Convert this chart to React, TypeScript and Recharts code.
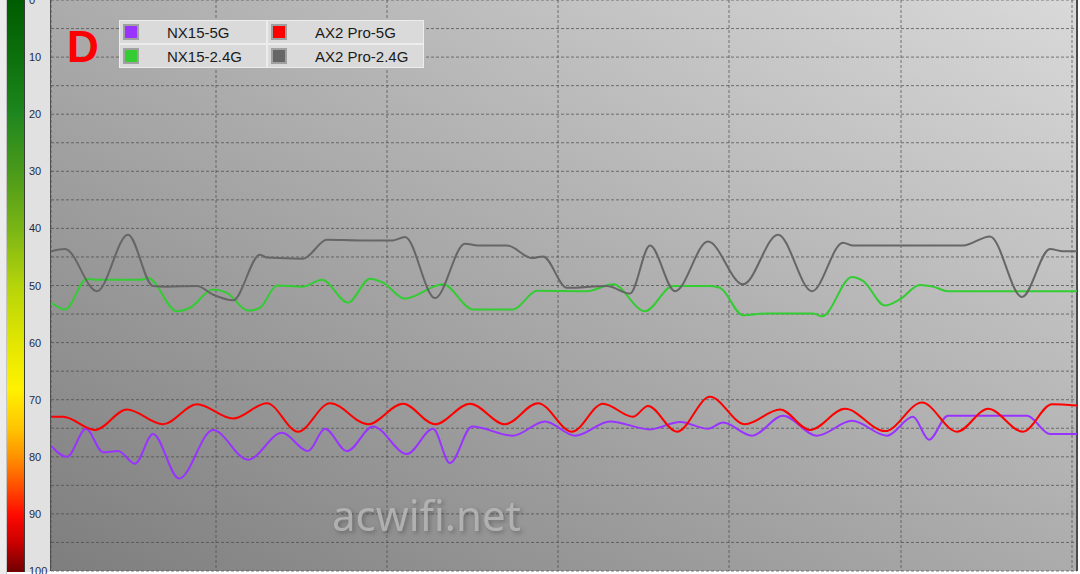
import { LineChart, Line, XAxis, YAxis, CartesianGrid, Legend } from "recharts"

// signal strength (-dBm) over time, x = sample time
const NX15_5G_T = [0, 16, 35, 52, 67, 84, 102, 128, 162, 197, 231, 257, 274, 296, 322, 356, 382, 399, 421, 462, 494, 524, 559, 599, 629, 657, 672, 701, 732, 766, 801, 836, 862, 878, 897, 976, 999, 1026]
const NX15_5G = [78.1, 80.0, 75.1, 79.2, 79.0, 81.2, 76.0, 83.8, 75.3, 80.5, 75.8, 79.0, 75.1, 79.0, 74.7, 79.5, 75.1, 81.1, 74.7, 76.3, 73.8, 76.3, 73.8, 75.2, 73.9, 75.1, 74.0, 76.3, 72.8, 76.3, 73.7, 76.3, 73.0, 77.0, 72.8, 72.8, 76.0, 76.0]

const NX15_24G_T = [0, 14, 36, 46, 89, 97, 126, 139, 162, 176, 197, 209, 226, 252, 271, 297, 319, 332, 354, 392, 422, 462, 486, 536, 562, 594, 622, 659, 669, 692, 716, 762, 771, 801, 812, 834, 849, 869, 882, 897, 1026]
const NX15_24G = [53.0, 54.2, 48.8, 49.0, 49.0, 48.7, 54.5, 53.9, 50.7, 51.3, 54.4, 53.9, 50.0, 50.2, 49.0, 53.0, 48.8, 49.5, 52.3, 49.8, 54.2, 54.2, 50.9, 51.0, 49.8, 54.5, 50.1, 50.1, 50.4, 55.2, 54.9, 54.9, 55.4, 48.5, 49.2, 53.5, 52.4, 49.9, 50.2, 51.0, 51.0]

const AX2_5G_T = [0, 12, 44, 76, 112, 146, 182, 216, 247, 279, 317, 352, 384, 419, 454, 487, 521, 552, 582, 597, 626, 659, 694, 729, 759, 794, 834, 871, 906, 937, 972, 1001, 1026]
const AX2_5G = [73.0, 73.0, 75.3, 71.7, 74.3, 70.8, 73.3, 70.6, 75.6, 70.6, 74.3, 70.7, 74.3, 70.7, 74.3, 70.6, 75.6, 70.7, 73.0, 71.1, 75.6, 69.5, 74.3, 71.7, 75.3, 71.6, 75.5, 70.5, 75.6, 71.6, 75.6, 70.8, 71.0]

const AX2_24G_T = [0, 14, 46, 77, 102, 116, 146, 162, 182, 209, 216, 252, 276, 309, 342, 354, 384, 414, 429, 456, 481, 492, 516, 556, 579, 599, 624, 657, 692, 727, 761, 792, 802, 912, 939, 971, 999, 1012, 1026]
const AX2_24G = [44.0, 43.6, 51.0, 41.1, 50.1, 50.2, 50.1, 51.6, 52.6, 44.6, 45.1, 45.3, 42.0, 42.1, 42.1, 41.5, 52.2, 42.7, 43.0, 43.0, 45.2, 44.9, 50.4, 50.1, 51.4, 43.0, 51.0, 42.3, 49.8, 41.1, 51.0, 42.5, 43.0, 43.0, 41.4, 52.0, 43.6, 44.0, 44.0]

const SERIES = [
    { name: "NX15-5G", color: "#9933ff", t: NX15_5G_T, v: NX15_5G },
    { name: "NX15-2.4G", color: "#33cc33", t: NX15_24G_T, v: NX15_24G },
    { name: "AX2 Pro-5G", color: "#ff0000", t: AX2_5G_T, v: AX2_5G },
    { name: "AX2 Pro-2.4G", color: "#666666", t: AX2_24G_T, v: AX2_24G },
]

const Y_TICKS = [0, 5, 10, 15, 20, 25, 30, 35, 40, 45, 50, 55, 60, 65, 70, 75, 80, 85, 90, 95, 100]
const X_GRID = [165, 336, 507, 678, 850, 1021]
const X_DOMAIN = [0, 1026]

const toPoints = (t: number[], v: number[]) => t.map((x, i) => ({ t: x, v: v[i] }))

const YTick = (props: any) => {
    const { y, payload } = props
    if (payload.value % 10 !== 0) return <g />
    return (
        <text x={29} y={y} dy={4} fontSize={11} fill="#1f2b48" fontFamily="'Liberation Sans', Arial, sans-serif">
            {payload.value}
        </text>
    )
}

// legend keeps the series order (2 rows x 2 columns)
const LegendBox = ({ payload }: any) => {
    const items = SERIES.map(s => (payload || []).find((p: any) => p.value === s.name)).filter(Boolean)
    return (
        <div style={{
            display: "grid",
            gridTemplateRows: "22px 22px",
            gridTemplateColumns: "146px 155px",
            gridAutoFlow: "column",
            gap: 2,
            fontFamily: "'Liberation Sans', Arial, sans-serif",
            fontSize: 15,
            color: "#1a1a1a",
        }}>
            {items.map((p: any) => (
                <div key={p.value} style={{ background: "#dadada", display: "flex", alignItems: "center", boxShadow: "0 0 0 1px #ededed" }}>
                    <span style={{ width: 12, height: 12, background: p.color, border: "2px solid #a0a0a0", marginLeft: 3, flex: "none" }} />
                    <span style={{ marginLeft: 28 }}>{p.value}</span>
                </div>
            ))}
        </div>
    )
}

export default function App() {
    return (
        <div style={{ position: "fixed", left: 0, top: 0, width: 1080, height: 574, background: "#ffffff", overflow: "hidden" }}>
            <div style={{ position: "absolute", left: 0, top: 0, width: 6, height: 574, background: "#ececec", borderRight: "1px solid #c4c4c4" }} />
            {/* colour scale bar */}
            <div style={{
                position: "absolute", left: 7, top: 0, width: 17, height: 572, borderRight: "1px solid #3a3a3a",
                background: "linear-gradient(to bottom, #005c00 0%, #0c700c 10%, #1f871f 20%, #4a9a1a 30%, #7ab515 40%, #b5d40a 50%, #e2e600 60%, #fff200 68%, #ffc400 75%, #ff9000 80%, #ff5000 85%, #ff0a00 90%, #c80000 95%, #700000 100%)",
            }} />
            <div style={{ position: "absolute", left: 25, top: 0, width: 25, height: 572, background: "#e1e1e1" }} />
            {/* plot background */}
            <div style={{
                position: "absolute", left: 50, top: 0, width: 1028, height: 571, boxSizing: "border-box",
                borderLeft: "1px solid #505050", borderRight: "2px solid #4a4a4a",
                background: "linear-gradient(to top right, #7e7e7e, #d9d9d9)",
            }} />
            <div style={{ position: "absolute", left: 0, top: 0 }}>
                <LineChart width={1080} height={574} margin={{ top: 0, right: 3, bottom: 3, left: 0 }}>
                    <CartesianGrid stroke="#4a4a4a" strokeOpacity={0.7} strokeDasharray="3 2" />
                    <XAxis dataKey="t" type="number" domain={X_DOMAIN} ticks={X_GRID} hide allowDataOverflow />
                    <YAxis
                        type="number"
                        domain={[0, 100]}
                        reversed
                        ticks={Y_TICKS}
                        interval={0}
                        width={51}
                        axisLine={false}
                        tickLine={false}
                        tick={<YTick />}
                    />
                    <Legend
                        layout="horizontal"
                        verticalAlign="middle"
                        align="center"
                        content={<LegendBox />}
                        wrapperStyle={{ top: 21, left: 120, width: 310 }}
                    />
                    {SERIES.map(s => (
                        <Line
                            key={s.name}
                            data={toPoints(s.t, s.v)}
                            dataKey="v"
                            name={s.name}
                            type="monotone"
                            stroke={s.color}
                            strokeWidth={2}
                            dot={false}
                            activeDot={false}
                            isAnimationActive={false}
                        />
                    ))}
                </LineChart>
            </div>
            <svg width={1080} height={574} style={{ position: "absolute", left: 0, top: 0, pointerEvents: "none" }}>
                <text x={67} y={62} fontSize={44} fontWeight={700} fill="#ff0000" fontFamily="'Liberation Sans', Arial, sans-serif">D</text>
                <text x={332} y={531} fontSize={42} fill="#b9b9b9" fillOpacity={0.85} fontFamily="'Noto Sans', sans-serif"
                    style={{ filter: "drop-shadow(2px 2px 2px rgba(0,0,0,0.3))" }}>acwifi.net</text>
            </svg>
        </div>
    )
}
